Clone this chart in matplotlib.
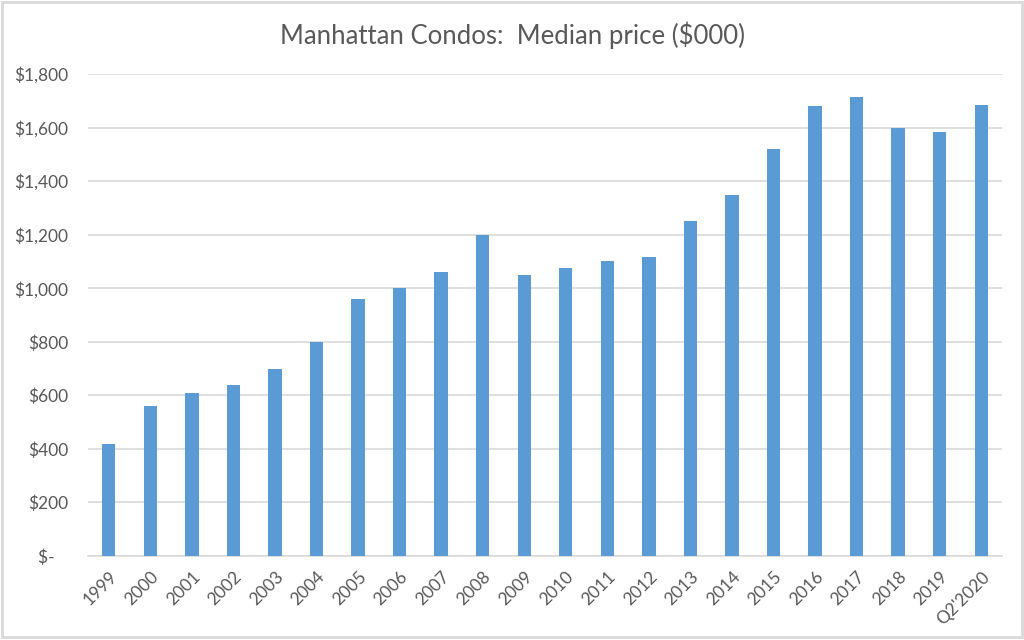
import matplotlib.pyplot as plt
from matplotlib.patches import Rectangle
from matplotlib.ticker import FuncFormatter

# median condo price, $000
years = ["1999", "2000", "2001", "2002", "2003", "2004", "2005", "2006", "2007",
         "2008", "2009", "2010", "2011", "2012", "2013", "2014", "2015", "2016",
         "2017", "2018", "2019", "Q2'2020"]
prices = [420, 560, 610, 640, 700, 800, 960, 1000, 1060, 1200, 1050, 1075,
          1100, 1115, 1250, 1350, 1520, 1680, 1715, 1600, 1585, 1685]
yticks = [0, 200, 400, 600, 800, 1000, 1200, 1400, 1600, 1800]

plt.rcParams["font.family"] = ["Lato", "DejaVu Sans"]
text_col = "#595959"

fig = plt.figure(figsize=(10.24, 6.4), dpi=100)
ax = fig.add_axes([88 / 1024, 1 - 556 / 640, 914 / 1024, 482 / 640])

x = range(len(years))
ax.bar(x, prices, width=0.32, color="#5B9BD5", zorder=3)

ax.set_xlim(-0.5, len(years) - 0.5)
ax.set_ylim(0, 1800)
ax.set_yticks(yticks)
ax.yaxis.set_major_formatter(FuncFormatter(
    lambda v, p: "$-   " if v == 0 else "${:,.0f}".format(v)))
ax.grid(axis="y", color="#D9D9D9", linewidth=1.2, zorder=0)
for s in ["top", "right", "left"]:
    ax.spines[s].set_visible(False)
ax.spines["bottom"].set_color("#D9D9D9")
ax.spines["bottom"].set_linewidth(1.2)

ax.set_xticks(list(x))
ax.set_xticklabels(years, rotation=45, ha="right", rotation_mode="anchor")
ax.tick_params(axis="x", length=0, pad=9, labelsize=12.5, labelcolor=text_col)
ax.tick_params(axis="y", length=0, pad=14, labelsize=12.5, labelcolor=text_col)

fig.text(0.5, 1 - 35 / 640, "Manhattan Condos:  Median price ($000)",
         ha="center", va="center", fontsize=18.5, color=text_col)

# light frame round the chart
fig.patches.append(Rectangle((0.002, 0.004), 0.996, 0.993, transform=fig.transFigure,
                             fill=False, edgecolor="#D9D9D9", linewidth=2))

plt.savefig("out.png", dpi=100)
